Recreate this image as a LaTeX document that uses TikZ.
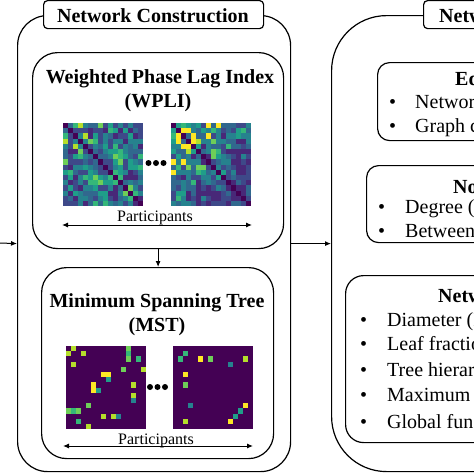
\documentclass[tikz,border=0pt]{standalone}
\usepackage{fontspec}
\setmainfont{Liberation Serif}
\usetikzlibrary{arrows.meta}
\definecolor{v0}{HTML}{440154}
\definecolor{v1}{HTML}{482878}
\definecolor{v2}{HTML}{3E4989}
\definecolor{v3}{HTML}{31688E}
\definecolor{v4}{HTML}{26828E}
\definecolor{v5}{HTML}{1F9E89}
\definecolor{v6}{HTML}{35B779}
\definecolor{v7}{HTML}{6ECE58}
\definecolor{v8}{HTML}{B5DE2B}
\definecolor{v9}{HTML}{FDE725}
\newcommand{\wplimat}[4]{%
  \pgfmathsetseed{#3}%
  \foreach \i in {0,...,15}{\fill[v0] ({#1+\i*5},{#2+\i*5.2}) rectangle ++(5,5.2);}%
  \foreach \i in {0,...,14}{%
    \pgfmathtruncatemacro\js{\i+1}%
    \foreach \j in {\js,...,15}{%
      \pgfmathtruncatemacro\r{random(0,99)+#4*(36-3*(\i+\j))}%
      \pgfmathtruncatemacro\k{(\r<12)?1:((\r<32)?2:((\r<52)?3:((\r<70)?4:((\r<82)?5:((\r<91)?6:((\r<96)?7:((\r<99)?8:9)))))))}%
      \fill[v\k] ({#1+\j*5},{#2+\i*5.2}) rectangle ++(5,5.2);%
      \fill[v\k] ({#1+\i*5},{#2+\j*5.2}) rectangle ++(5,5.2);%
    }%
  }%
}
\newcommand{\mstmat}[3]{%
  \fill[v0] (#1,#2) rectangle ++(80,83.2);%
  \pgfmathsetseed{#3}%
  \foreach \i in {0,...,14}{%
    \pgfmathtruncatemacro\js{\i+1}%
    \foreach \j in {\js,...,15}{%
      \pgfmathtruncatemacro\r{random(0,99)}%
      \ifnum\r<7
        \pgfmathtruncatemacro\k{random(4,9)}%
        \fill[v\k] ({#1+\j*5},{#2+\i*5.2}) rectangle ++(5,5.2);%
        \fill[v\k] ({#1+\i*5},{#2+\j*5.2}) rectangle ++(5,5.2);%
      \fi
    }%
  }%
}
\tikzset{
  box/.style={draw, line width=1.2pt, fill=white, anchor=north west, inner sep=0pt},
  ttl/.style={font=\fontsize{20}{23}\selectfont\bfseries, text height=14pt, text depth=0pt, inner sep=0pt},
  txt/.style={font=\fontsize{20}{23}\selectfont, text height=13pt, text depth=0pt, inner sep=0pt, anchor=west},
  ptxt/.style={font=\fontsize{16}{19}\selectfont, text height=11pt, text depth=0pt, inner sep=0pt},
  arr/.style={-{Latex[length=6pt,width=5pt]}, line width=1pt},
  darr/.style={{Latex[length=6pt,width=5pt]}-{Latex[length=6pt,width=5pt]}, line width=1pt},
  dotc/.style={fill=black}
}
\begin{document}
\begin{tikzpicture}[x=1pt,y=-1pt]
\useasboundingbox (0,0) rectangle (474,474);
\clip (0,0) rectangle (474,474);
% outer boxes
\node[box, rounded corners=30pt, minimum width=273pt, minimum height=456pt] (outerA) at (17,15) {};
\node[box, rounded corners=55pt, minimum width=230pt, minimum height=456pt] (outerB) at (331,15) {};
\node[box, rounded corners=4pt, minimum width=220pt, minimum height=28pt] (titleA) at (43,0) {};
\node[box, rounded corners=4pt, minimum width=160pt, minimum height=28pt] (titleB) at (423,0) {};
\node[ttl] (titleAtext) at (153,15.5) {Network Construction};
\node[ttl, anchor=west] (titleBtext) at (439,15.5) {Network Analysis};
% arrows between outer boxes
\coordinate (inpt) at (0,243);
\draw[arr] (inpt) -- (outerA.west);
\draw[arr] (outerA.east) -- (outerB.west);
% WPLI box
\node[box, rounded corners=25pt, minimum width=251pt, minimum height=196pt] (wpli) at (32,52) {};
\node[ttl] (wplit1) at (160,76) {Weighted Phase Lag Index};
\node[ttl] (wplit2) at (158,100) {(WPLI)};
\wplimat{63}{123}{7}{0}
\wplimat{171}{123}{21}{1}
\fill[dotc] (148.5,163) circle (3);
\fill[dotc] (156,163) circle (3);
\fill[dotc] (163.5,163) circle (3);
\node[ptxt] (wplip) at (155,216) {Participants};
\coordinate (wplal) at (62,225);
\coordinate (wplar) at (252,225);
\draw[darr] (wplal) -- (wplar);
% MST box
\node[box, rounded corners=25pt, minimum width=232pt, minimum height=191pt] (mst) at (41,267) {};
\draw[arr] (wpli.south) -- (wpli.south |- mst.north);
\node[ttl] (mstt1) at (157,300) {Minimum Spanning Tree};
\node[ttl] (mstt2) at (157,324) {(MST)};
\mstmat{66}{346}{5}
\mstmat{173}{346}{13}
\fill[dotc] (150,387) circle (3);
\fill[dotc] (157.5,387) circle (3);
\fill[dotc] (165,387) circle (3);
\node[ptxt] (mstp) at (156,439) {Participants};
\coordinate (mstal) at (63,446);
\coordinate (mstar) at (253,446);
\draw[darr] (mstal) -- (mstar);
% Right inner boxes
\node[box, rounded corners=12pt, minimum width=200pt, minimum height=78pt] (edgebox) at (377,62) {};
\node[ttl, anchor=west] (edget) at (455,78) {Edge-level};
\node[txt] (eb1) at (389,102) {•};
\node[txt] (eb1t) at (415,102) {Network density};
\node[txt] (eb2) at (389,126) {•};
\node[txt] (eb2t) at (415,126) {Graph connectivity};
\node[box, rounded corners=12pt, minimum width=210pt, minimum height=77pt] (nodebox) at (366,165) {};
\node[ttl, anchor=west] (nodet) at (453,186) {Node-level};
\node[txt] (nb1) at (378,207) {•};
\node[txt] (nb1t) at (405,207) {Degree (K)};
\node[txt] (nb2) at (378,231) {•};
\node[txt] (nb2t) at (405,231) {Betweenness centrality};
\node[box, rounded corners=18pt, minimum width=230pt, minimum height=167pt] (netbox) at (345,275) {};
\node[ttl, anchor=west] (nett) at (438,295) {Network-level};
\node[txt] (tb1) at (360,320) {•};
\node[txt] (tb1t) at (387,320) {Diameter (D)};
\node[txt] (tb2) at (360,344) {•};
\node[txt] (tb2t) at (387,344) {Leaf fraction};
\node[txt] (tb3) at (360,370) {•};
\node[txt] (tb3t) at (387,370) {Tree hierarchy};
\node[txt] (tb4) at (360,395) {•};
\node[txt] (tb4t) at (387,395) {Maximum degree};
\node[txt] (tb5) at (360,422) {•};
\node[txt] (tb5t) at (387,422) {Global functional connectivity};
\end{tikzpicture}
\end{document}
